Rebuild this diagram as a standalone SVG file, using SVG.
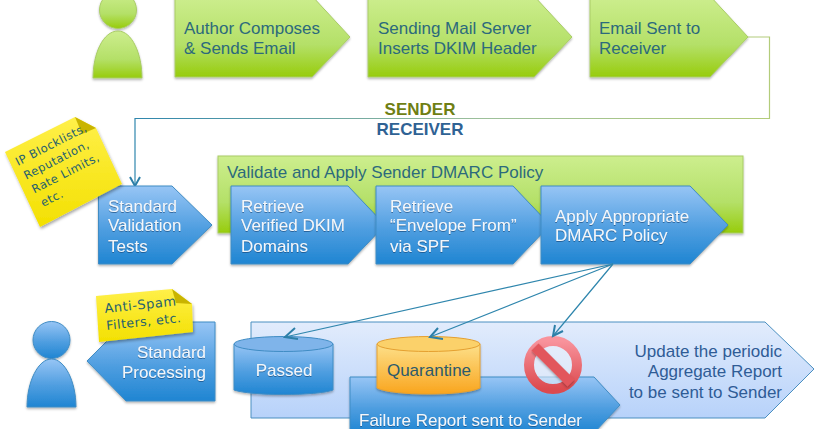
<svg xmlns="http://www.w3.org/2000/svg" width="817" height="429" viewBox="0 0 817 429">
<style>
text{font-family:"Liberation Sans",Arial,sans-serif;font-size:17px}
.g{fill:url(#green);stroke:#a9cc66;stroke-width:1;filter:url(#sh)}
.b{fill:url(#blue);stroke:#3f8cc4;stroke-width:1;filter:url(#sh)}
.gt{fill:#2c6a7c}
.bt{fill:#f2f7fc;filter:url(#ts)}
.note{fill:url(#yel);filter:url(#sh2)}
.fold{fill:#c9b400}
.nt{font-family:"DejaVu Sans",sans-serif;font-size:11.5px;fill:#24606e;letter-spacing:.5px}
.conn{fill:none;stroke-width:1.2}
.ah{fill:none;stroke:#2c7fa8;stroke-width:2}
</style>
<defs>
<linearGradient id="green" x1="0" y1="0" x2="0" y2="1"><stop offset="0" stop-color="#cdee8e"/><stop offset=".6" stop-color="#b4e068"/><stop offset="1" stop-color="#97cc0c"/></linearGradient>
<linearGradient id="blue" x1="0" y1="0" x2="0" y2="1"><stop offset="0" stop-color="#97c5f5"/><stop offset=".55" stop-color="#4f9ee0"/><stop offset="1" stop-color="#1f85d2"/></linearGradient>
<linearGradient id="light" x1="0" y1="0" x2="0" y2="1"><stop offset="0" stop-color="#e2ecfc"/><stop offset="1" stop-color="#b7d2fa"/></linearGradient>
<linearGradient id="orange" x1="0" y1="0" x2="0" y2="1"><stop offset="0" stop-color="#fde08a"/><stop offset="1" stop-color="#f9a51e"/></linearGradient>
<linearGradient id="red" x1="0" y1="0" x2="0" y2="1"><stop offset="0" stop-color="#f8939c"/><stop offset="1" stop-color="#dc4a4f"/></linearGradient>
<linearGradient id="yel" x1="0" y1="0" x2="0" y2="1"><stop offset="0" stop-color="#fff04a"/><stop offset="1" stop-color="#f3e000"/></linearGradient>
<linearGradient id="line" gradientUnits="userSpaceOnUse" x1="769" y1="0" x2="135" y2="0"><stop offset="0" stop-color="#b3cc7a"/><stop offset=".45" stop-color="#9dc09a"/><stop offset="1" stop-color="#2f86ad"/></linearGradient>
<filter id="sh" x="-10%" y="-10%" width="120%" height="125%"><feDropShadow dx="0" dy="1.5" stdDeviation="1.2" flood-color="#000" flood-opacity=".3"/></filter>
<filter id="sh2" x="-15%" y="-15%" width="130%" height="130%"><feDropShadow dx="1" dy="2" stdDeviation="1.500" flood-color="#000" flood-opacity=".35"/></filter>
<filter id="ts" x="-5%" y="-10%" width="110%" height="130%"><feDropShadow dx="0" dy="1" stdDeviation=".5" flood-color="#0b3f70" flood-opacity=".6"/></filter>
</defs>

<g id="connectors">
<path class="conn" stroke="url(#line)" d="M748 37H769.5V118.5H135V186"/>
<path class="ah" d="M130 177L135 186L140 177"/>
</g>

<g id="sender-person"><circle class="g" cx="118" cy="10" r="18.500"/><path class="g" d="M93 78C93 54 103 31 118 31C132 31 142 54 142 78Z"/></g>
<g id="author"><path class="g" d="M175-4H312L350 37L312 77H175Z"/><text class="gt" x="184" y="34">Author Composes</text><text class="gt" x="184" y="54">&amp; Sends Email</text></g>
<g id="server"><path class="g" d="M368-4H534L572 37L534 77H368Z"/><text class="gt" x="378" y="34">Sending Mail Server</text><text class="gt" x="378" y="54">Inserts DKIM Header</text></g>
<g id="sent"><path class="g" d="M590-4H710L748 37L710 77H590Z"/><text class="gt" x="599" y="34">Email Sent to</text><text class="gt" x="599" y="54">Receiver</text></g>

<g id="labels"><text x="420" y="115" text-anchor="middle" style="font-weight:bold" fill="#6f7f14">SENDER</text><text x="420" y="135" text-anchor="middle" style="font-weight:bold" fill="#2f6294">RECEIVER</text></g>

<g id="validate"><rect class="g" x="218" y="156" width="525" height="77"/><text class="gt" x="227" y="178">Validate and Apply Sender DMARC Policy</text></g>

<g id="standard-tests"><path class="b" d="M98.5 186H172L212 225L172 264H98.5Z"/><text class="bt" x="108" y="212">Standard</text><text class="bt" x="108" y="231">Validation</text><text class="bt" x="108" y="252">Tests</text></g>
<g id="note-ip"><path class="note" d="M5 152L75 117L96 128L122 184L40 227Z"/><path class="fold" d="M75 117L96 128L82 134Z"/>
<g transform="rotate(-27 18 166)"><text class="nt" x="18" y="166">IP Blocklists,</text><text class="nt" x="19" y="182">Reputation,</text><text class="nt" x="20" y="198">Rate Limits,</text><text class="nt" x="22" y="214">etc.</text></g></g>

<g id="dkim"><path class="b" d="M231 186H348L385 225L348 264H231Z"/><text class="bt" x="241" y="212">Retrieve</text><text class="bt" x="241" y="231">Verified DKIM</text><text class="bt" x="241" y="252">Domains</text></g>
<g id="spf"><path class="b" d="M376 186H513L550 225L513 264H376Z"/><text class="bt" x="390" y="212">Retrieve</text><text class="bt" x="390" y="231">“Envelope From”</text><text class="bt" x="390" y="252">via SPF</text></g>
<g id="apply"><path class="b" d="M541 186H690L728 225L690 264H541Z"/><text class="bt" x="555" y="222">Apply Appropriate</text><text class="bt" x="555" y="241">DMARC Policy</text></g>

<g id="update"><path d="M251 322H765L814 369L765 418H251Z" fill="url(#light)" stroke="#4a8fc0" stroke-width="1"/><g fill="#2f5c96" text-anchor="end"><text x="782" y="357">Update the periodic</text><text x="782" y="377">Aggregate Report</text><text x="782" y="398">to be sent to Sender</text></g></g>

<g id="receiver-person"><circle class="b" cx="51.500" cy="340" r="18.500"/><path class="b" d="M27 407C27 382 38 359 51.500 359C65 359 76 382 76 407Z"/></g>
<g id="processing"><path class="b" d="M215 322V401H126L87 361L126 322Z"/><text class="bt" x="206" y="358" text-anchor="end">Standard</text><text class="bt" x="206" y="378" text-anchor="end">Processing</text></g>
<g id="note-spam"><path class="note" d="M96 296L172 289L192 304L193 332L99 342Z"/><path class="fold" d="M172 289L192 304L176 303Z"/>
<g transform="rotate(-6 105 313)"><text class="nt" x="105" y="313" style="font-size:13px">Anti-Spam</text><text class="nt" x="105" y="330" style="font-size:12.500px">Filters, etc.</text></g></g>

<g id="passed"><path class="b" d="M234 344V390C250 396 318 396 333 390V344Z"/><ellipse cx="283.500" cy="344" rx="49.500" ry="7.500" fill="#7fb4ea" stroke="#3f8cc4"/><text class="bt" x="284" y="376" text-anchor="middle">Passed</text></g>

<g id="failure"><path class="b" d="M350 377H594L620 405L594 433H350Z"/><text class="bt" x="359" y="426">Failure Report sent to Sender</text></g>
<g id="quarantine"><path d="M377 344V388C392 396 465 396 480 388V344Z" fill="url(#orange)" stroke="#e5a030" filter="url(#sh)"/><ellipse cx="428.500" cy="344" rx="51.500" ry="7.500" fill="#fbd16a" stroke="#e5a030"/><text x="429" y="376" text-anchor="middle" fill="#2c5a6c">Quarantine</text></g>

<g id="no-sign"><circle cx="553" cy="365" r="23" fill="#eef2fa" fill-opacity=".55"/><circle cx="553" cy="365" r="24" fill="none" stroke="url(#red)" stroke-width="10"/><path d="M535 347L571 383" stroke="#e2565c" stroke-width="10" filter="url(#sh)"/></g>

<g id="policy-arrows">
<path class="conn" stroke="#2f86ad" d="M613 264L285 337M613 264L430 337M613 264L553 336"/>
<path class="ah" d="M295 328L285 337L298 339M438 328L430 337L443 339M555 325L553 336L563 331"/>
</g>
</svg>
